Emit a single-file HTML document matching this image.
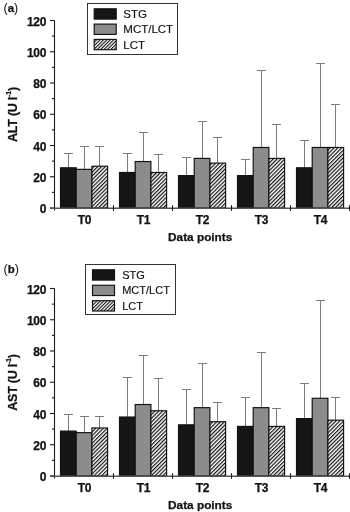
<!DOCTYPE html>
<html><head><meta charset="utf-8"><style>
html,body{margin:0;padding:0;background:#fff;}
svg{display:block;will-change:transform;}
.ax{stroke:#1a1a1a;stroke-width:1.1;fill:none;}
.eb{stroke:#7c7c7c;stroke-width:1.0;fill:none;}
.bar{stroke:#111;stroke-width:1.15;}
.lg{stroke:#333;stroke-width:1;}
.tl{font-family:"Liberation Sans",sans-serif;font-weight:bold;font-size:11.5px;fill:#111;stroke:#111;stroke-width:0.25px;}
.tk{font-family:"Liberation Sans",sans-serif;font-weight:bold;font-size:12px;letter-spacing:-0.3px;fill:#111;stroke:#111;stroke-width:0.25px;}
.yl{font-family:"Liberation Sans",sans-serif;font-weight:bold;font-size:12.5px;letter-spacing:-0.25px;fill:#111;stroke:#111;stroke-width:0.25px;}
.lt{font-family:"Liberation Sans",sans-serif;font-weight:bold;font-size:12px;fill:#111;stroke:#111;stroke-width:0.25px;}
.lgt{font-family:"Liberation Sans",sans-serif;font-size:11.5px;fill:#111;stroke:#111;stroke-width:0.15px;}
</style></head><body>
<svg width="350" height="512" viewBox="0 0 350 512">
<defs><pattern id="h" patternUnits="userSpaceOnUse" width="2.7" height="10" patternTransform="rotate(45)"><rect width="2.7" height="10" fill="#fff"/><rect x="0" y="0" width="1.2" height="10" fill="#111"/></pattern><pattern id="h2" patternUnits="userSpaceOnUse" width="2.4" height="10" patternTransform="rotate(45)"><rect width="2.4" height="10" fill="#fff"/><rect x="0" y="0" width="1.1" height="10" fill="#111"/></pattern></defs>
<line x1="68.50" y1="167.88" x2="68.50" y2="153.50" class="eb"/>
<line x1="64.00" y1="153.50" x2="73.00" y2="153.50" class="eb"/>
<rect x="60.50" y="167.78" width="15.70" height="40.23" fill="#161616" class="bar"/>
<line x1="84.50" y1="169.44" x2="84.50" y2="146.50" class="eb"/>
<line x1="80.00" y1="146.50" x2="89.00" y2="146.50" class="eb"/>
<rect x="76.20" y="169.34" width="15.70" height="38.66" fill="#8c8c8c" class="bar"/>
<line x1="99.50" y1="166.31" x2="99.50" y2="146.50" class="eb"/>
<line x1="95.00" y1="146.50" x2="104.00" y2="146.50" class="eb"/>
<rect x="91.90" y="166.21" width="15.70" height="41.79" fill="url(#h)" class="bar"/>
<line x1="127.50" y1="172.56" x2="127.50" y2="153.50" class="eb"/>
<line x1="123.00" y1="153.50" x2="132.00" y2="153.50" class="eb"/>
<rect x="119.50" y="172.46" width="15.70" height="35.54" fill="#161616" class="bar"/>
<line x1="143.50" y1="161.62" x2="143.50" y2="132.50" class="eb"/>
<line x1="139.00" y1="132.50" x2="148.00" y2="132.50" class="eb"/>
<rect x="135.20" y="161.53" width="15.70" height="46.48" fill="#8c8c8c" class="bar"/>
<line x1="158.50" y1="172.56" x2="158.50" y2="154.50" class="eb"/>
<line x1="154.00" y1="154.50" x2="163.00" y2="154.50" class="eb"/>
<rect x="150.90" y="172.46" width="15.70" height="35.54" fill="url(#h)" class="bar"/>
<line x1="186.50" y1="175.69" x2="186.50" y2="157.50" class="eb"/>
<line x1="182.00" y1="157.50" x2="191.00" y2="157.50" class="eb"/>
<rect x="178.50" y="175.59" width="15.70" height="32.41" fill="#161616" class="bar"/>
<line x1="202.50" y1="158.50" x2="202.50" y2="121.50" class="eb"/>
<line x1="198.00" y1="121.50" x2="207.00" y2="121.50" class="eb"/>
<rect x="194.20" y="158.40" width="15.70" height="49.60" fill="#8c8c8c" class="bar"/>
<line x1="217.50" y1="163.19" x2="217.50" y2="137.50" class="eb"/>
<line x1="213.00" y1="137.50" x2="222.00" y2="137.50" class="eb"/>
<rect x="209.90" y="163.09" width="15.70" height="44.91" fill="url(#h)" class="bar"/>
<line x1="245.50" y1="175.69" x2="245.50" y2="159.50" class="eb"/>
<line x1="241.00" y1="159.50" x2="250.00" y2="159.50" class="eb"/>
<rect x="237.50" y="175.59" width="15.70" height="32.41" fill="#161616" class="bar"/>
<line x1="261.50" y1="147.56" x2="261.50" y2="70.50" class="eb"/>
<line x1="257.00" y1="70.50" x2="266.00" y2="70.50" class="eb"/>
<rect x="253.20" y="147.46" width="15.70" height="60.54" fill="#8c8c8c" class="bar"/>
<line x1="276.50" y1="158.50" x2="276.50" y2="124.50" class="eb"/>
<line x1="272.00" y1="124.50" x2="281.00" y2="124.50" class="eb"/>
<rect x="268.90" y="158.40" width="15.70" height="49.60" fill="url(#h)" class="bar"/>
<line x1="304.50" y1="167.88" x2="304.50" y2="140.50" class="eb"/>
<line x1="300.00" y1="140.50" x2="309.00" y2="140.50" class="eb"/>
<rect x="296.50" y="167.78" width="15.70" height="40.23" fill="#161616" class="bar"/>
<line x1="320.50" y1="147.56" x2="320.50" y2="63.50" class="eb"/>
<line x1="316.00" y1="63.50" x2="325.00" y2="63.50" class="eb"/>
<rect x="312.20" y="147.46" width="15.70" height="60.54" fill="#8c8c8c" class="bar"/>
<line x1="335.50" y1="147.56" x2="335.50" y2="104.50" class="eb"/>
<line x1="331.00" y1="104.50" x2="340.00" y2="104.50" class="eb"/>
<rect x="327.90" y="147.46" width="15.70" height="60.54" fill="url(#h)" class="bar"/>
<line x1="54.5" y1="20.50" x2="54.5" y2="210.50" class="ax"/>
<line x1="50.0" y1="208.00" x2="54.5" y2="208.00" class="ax"/>
<text x="46.1" y="213.00" class="tk" text-anchor="end">0</text>
<line x1="52.0" y1="192.38" x2="54.5" y2="192.38" class="ax"/>
<line x1="50.0" y1="176.75" x2="54.5" y2="176.75" class="ax"/>
<text x="46.1" y="181.75" class="tk" text-anchor="end">20</text>
<line x1="52.0" y1="161.12" x2="54.5" y2="161.12" class="ax"/>
<line x1="50.0" y1="145.50" x2="54.5" y2="145.50" class="ax"/>
<text x="46.1" y="150.50" class="tk" text-anchor="end">40</text>
<line x1="52.0" y1="129.88" x2="54.5" y2="129.88" class="ax"/>
<line x1="50.0" y1="114.25" x2="54.5" y2="114.25" class="ax"/>
<text x="46.1" y="119.25" class="tk" text-anchor="end">60</text>
<line x1="52.0" y1="98.62" x2="54.5" y2="98.62" class="ax"/>
<line x1="50.0" y1="83.00" x2="54.5" y2="83.00" class="ax"/>
<text x="46.1" y="88.00" class="tk" text-anchor="end">80</text>
<line x1="52.0" y1="67.38" x2="54.5" y2="67.38" class="ax"/>
<line x1="50.0" y1="51.75" x2="54.5" y2="51.75" class="ax"/>
<text x="46.1" y="56.75" class="tk" text-anchor="end">100</text>
<line x1="52.0" y1="36.12" x2="54.5" y2="36.12" class="ax"/>
<line x1="50.0" y1="20.50" x2="54.5" y2="20.50" class="ax"/>
<text x="46.1" y="25.50" class="tk" text-anchor="end">120</text>
<line x1="50.0" y1="208.25" x2="349.5" y2="208.25" class="ax" style="stroke:#555;stroke-width:1.3"/>
<line x1="113.50" y1="205.2" x2="113.50" y2="210.8" class="ax"/>
<line x1="172.50" y1="205.2" x2="172.50" y2="210.8" class="ax"/>
<line x1="231.50" y1="205.2" x2="231.50" y2="210.8" class="ax"/>
<line x1="290.50" y1="205.2" x2="290.50" y2="210.8" class="ax"/>
<line x1="349.50" y1="205.2" x2="349.50" y2="210.8" class="ax"/>
<text x="84.40" y="223.60" class="tk" text-anchor="middle">T0</text>
<text x="143.40" y="223.60" class="tk" text-anchor="middle">T1</text>
<text x="202.40" y="223.60" class="tk" text-anchor="middle">T2</text>
<text x="261.40" y="223.60" class="tk" text-anchor="middle">T3</text>
<text x="320.40" y="223.60" class="tk" text-anchor="middle">T4</text>
<text x="200.2" y="241.00" class="tl" text-anchor="middle" style="font-size:11.8px">Data points</text>
<text x="3.5" y="12.00" class="lt"><tspan font-weight="normal" style="stroke:none" font-size="12.5">(</tspan><tspan font-size="11.5">a</tspan><tspan font-weight="normal" style="stroke:none" font-size="12.5">)</tspan></text>
<text transform="translate(17.2,114.50) rotate(-90)" class="yl" text-anchor="middle">ALT (U l<tspan dy="-6.3" font-size="7.2">-1</tspan><tspan dy="6.3">)</tspan></text>
<rect x="87.5" y="3.5" width="90" height="51" fill="#fff" class="lg"/>
<rect x="94.20" y="8.80" width="22" height="10.3" fill="#161616" class="bar"/>
<text x="123.30" y="17.90" class="lgt" style="font-size:11.5px">STG</text>
<rect x="94.20" y="24.10" width="22" height="10.3" fill="#8c8c8c" class="bar"/>
<text x="123.30" y="33.20" class="lgt" style="font-size:11.5px">MCT/LCT</text>
<rect x="94.20" y="39.40" width="22" height="10.3" fill="url(#h2)" class="bar"/>
<text x="123.30" y="48.50" class="lgt" style="font-size:11.5px">LCT</text>
<line x1="68.50" y1="431.19" x2="68.50" y2="414.50" class="eb"/>
<line x1="64.00" y1="414.50" x2="73.00" y2="414.50" class="eb"/>
<rect x="60.50" y="431.09" width="15.70" height="44.91" fill="#161616" class="bar"/>
<line x1="84.50" y1="432.75" x2="84.50" y2="416.50" class="eb"/>
<line x1="80.00" y1="416.50" x2="89.00" y2="416.50" class="eb"/>
<rect x="76.20" y="432.65" width="15.70" height="43.35" fill="#8c8c8c" class="bar"/>
<line x1="99.50" y1="428.06" x2="99.50" y2="416.50" class="eb"/>
<line x1="95.00" y1="416.50" x2="104.00" y2="416.50" class="eb"/>
<rect x="91.90" y="427.96" width="15.70" height="48.04" fill="url(#h)" class="bar"/>
<line x1="127.50" y1="417.12" x2="127.50" y2="377.50" class="eb"/>
<line x1="123.00" y1="377.50" x2="132.00" y2="377.50" class="eb"/>
<rect x="119.50" y="417.02" width="15.70" height="58.98" fill="#161616" class="bar"/>
<line x1="143.50" y1="404.62" x2="143.50" y2="355.50" class="eb"/>
<line x1="139.00" y1="355.50" x2="148.00" y2="355.50" class="eb"/>
<rect x="135.20" y="404.52" width="15.70" height="71.47" fill="#8c8c8c" class="bar"/>
<line x1="158.50" y1="410.88" x2="158.50" y2="378.50" class="eb"/>
<line x1="154.00" y1="378.50" x2="163.00" y2="378.50" class="eb"/>
<rect x="150.90" y="410.77" width="15.70" height="65.22" fill="url(#h)" class="bar"/>
<line x1="186.50" y1="424.94" x2="186.50" y2="389.50" class="eb"/>
<line x1="182.00" y1="389.50" x2="191.00" y2="389.50" class="eb"/>
<rect x="178.50" y="424.84" width="15.70" height="51.16" fill="#161616" class="bar"/>
<line x1="202.50" y1="407.75" x2="202.50" y2="363.50" class="eb"/>
<line x1="198.00" y1="363.50" x2="207.00" y2="363.50" class="eb"/>
<rect x="194.20" y="407.65" width="15.70" height="68.35" fill="#8c8c8c" class="bar"/>
<line x1="217.50" y1="421.81" x2="217.50" y2="402.50" class="eb"/>
<line x1="213.00" y1="402.50" x2="222.00" y2="402.50" class="eb"/>
<rect x="209.90" y="421.71" width="15.70" height="54.29" fill="url(#h)" class="bar"/>
<line x1="245.50" y1="426.50" x2="245.50" y2="397.50" class="eb"/>
<line x1="241.00" y1="397.50" x2="250.00" y2="397.50" class="eb"/>
<rect x="237.50" y="426.40" width="15.70" height="49.60" fill="#161616" class="bar"/>
<line x1="261.50" y1="407.75" x2="261.50" y2="352.50" class="eb"/>
<line x1="257.00" y1="352.50" x2="266.00" y2="352.50" class="eb"/>
<rect x="253.20" y="407.65" width="15.70" height="68.35" fill="#8c8c8c" class="bar"/>
<line x1="276.50" y1="426.50" x2="276.50" y2="408.50" class="eb"/>
<line x1="272.00" y1="408.50" x2="281.00" y2="408.50" class="eb"/>
<rect x="268.90" y="426.40" width="15.70" height="49.60" fill="url(#h)" class="bar"/>
<line x1="304.50" y1="418.69" x2="304.50" y2="383.50" class="eb"/>
<line x1="300.00" y1="383.50" x2="309.00" y2="383.50" class="eb"/>
<rect x="296.50" y="418.59" width="15.70" height="57.41" fill="#161616" class="bar"/>
<line x1="320.50" y1="398.38" x2="320.50" y2="300.50" class="eb"/>
<line x1="316.00" y1="300.50" x2="325.00" y2="300.50" class="eb"/>
<rect x="312.20" y="398.27" width="15.70" height="77.72" fill="#8c8c8c" class="bar"/>
<line x1="335.50" y1="420.25" x2="335.50" y2="397.50" class="eb"/>
<line x1="331.00" y1="397.50" x2="340.00" y2="397.50" class="eb"/>
<rect x="327.90" y="420.15" width="15.70" height="55.85" fill="url(#h)" class="bar"/>
<line x1="54.5" y1="288.50" x2="54.5" y2="478.50" class="ax"/>
<line x1="50.0" y1="476.00" x2="54.5" y2="476.00" class="ax"/>
<text x="46.1" y="481.00" class="tk" text-anchor="end">0</text>
<line x1="52.0" y1="460.38" x2="54.5" y2="460.38" class="ax"/>
<line x1="50.0" y1="444.75" x2="54.5" y2="444.75" class="ax"/>
<text x="46.1" y="449.75" class="tk" text-anchor="end">20</text>
<line x1="52.0" y1="429.12" x2="54.5" y2="429.12" class="ax"/>
<line x1="50.0" y1="413.50" x2="54.5" y2="413.50" class="ax"/>
<text x="46.1" y="418.50" class="tk" text-anchor="end">40</text>
<line x1="52.0" y1="397.88" x2="54.5" y2="397.88" class="ax"/>
<line x1="50.0" y1="382.25" x2="54.5" y2="382.25" class="ax"/>
<text x="46.1" y="387.25" class="tk" text-anchor="end">60</text>
<line x1="52.0" y1="366.62" x2="54.5" y2="366.62" class="ax"/>
<line x1="50.0" y1="351.00" x2="54.5" y2="351.00" class="ax"/>
<text x="46.1" y="356.00" class="tk" text-anchor="end">80</text>
<line x1="52.0" y1="335.38" x2="54.5" y2="335.38" class="ax"/>
<line x1="50.0" y1="319.75" x2="54.5" y2="319.75" class="ax"/>
<text x="46.1" y="324.75" class="tk" text-anchor="end">100</text>
<line x1="52.0" y1="304.12" x2="54.5" y2="304.12" class="ax"/>
<line x1="50.0" y1="288.50" x2="54.5" y2="288.50" class="ax"/>
<text x="46.1" y="293.50" class="tk" text-anchor="end">120</text>
<line x1="50.0" y1="476.25" x2="349.5" y2="476.25" class="ax" style="stroke:#555;stroke-width:1.3"/>
<line x1="113.50" y1="473.2" x2="113.50" y2="478.8" class="ax"/>
<line x1="172.50" y1="473.2" x2="172.50" y2="478.8" class="ax"/>
<line x1="231.50" y1="473.2" x2="231.50" y2="478.8" class="ax"/>
<line x1="290.50" y1="473.2" x2="290.50" y2="478.8" class="ax"/>
<line x1="349.50" y1="473.2" x2="349.50" y2="478.8" class="ax"/>
<text x="84.40" y="491.60" class="tk" text-anchor="middle">T0</text>
<text x="143.40" y="491.60" class="tk" text-anchor="middle">T1</text>
<text x="202.40" y="491.60" class="tk" text-anchor="middle">T2</text>
<text x="261.40" y="491.60" class="tk" text-anchor="middle">T3</text>
<text x="320.40" y="491.60" class="tk" text-anchor="middle">T4</text>
<text x="200.2" y="509.00" class="tl" text-anchor="middle" style="font-size:11.8px">Data points</text>
<text x="3.5" y="273.00" class="lt"><tspan font-weight="normal" style="stroke:none" font-size="12.5">(</tspan><tspan font-size="11.5">b</tspan><tspan font-weight="normal" style="stroke:none" font-size="12.5">)</tspan></text>
<text transform="translate(17.2,382.50) rotate(-90)" class="yl" text-anchor="middle">AST (U l<tspan dy="-6.3" font-size="7.2">-1</tspan><tspan dy="6.3">)</tspan></text>
<rect x="85.5" y="264.5" width="90" height="50" fill="#fff" class="lg"/>
<rect x="92.50" y="269.80" width="22" height="10.3" fill="#161616" class="bar"/>
<text x="122.20" y="278.90" class="lgt" style="font-size:11px">STG</text>
<rect x="92.50" y="285.25" width="22" height="10.3" fill="#8c8c8c" class="bar"/>
<text x="122.20" y="294.35" class="lgt" style="font-size:11px">MCT/LCT</text>
<rect x="92.50" y="300.70" width="22" height="10.3" fill="url(#h2)" class="bar"/>
<text x="122.20" y="309.80" class="lgt" style="font-size:11px">LCT</text>
</svg></body></html>
